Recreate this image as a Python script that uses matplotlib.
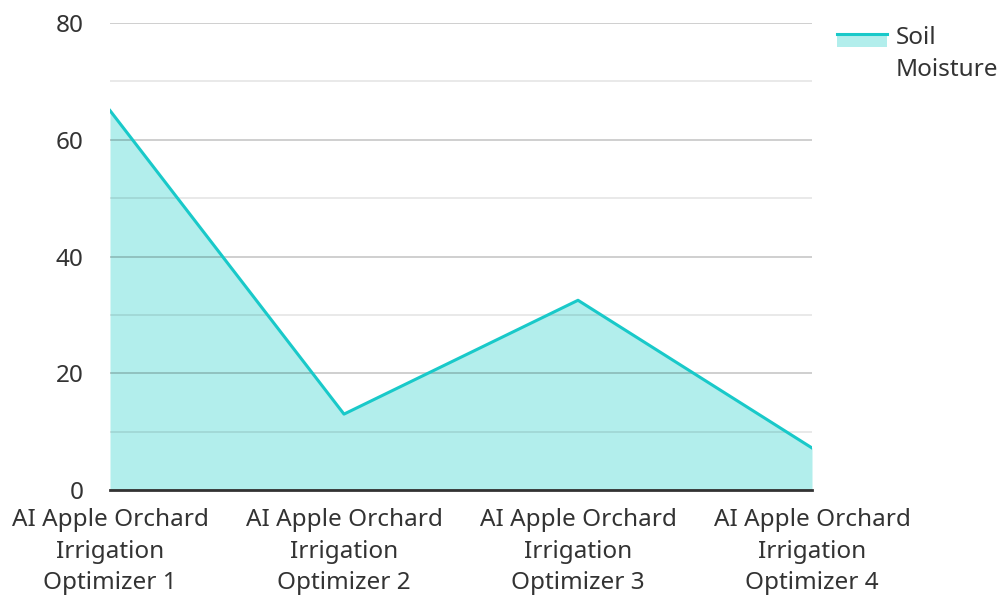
import matplotlib.pyplot as plt
from matplotlib.patches import Rectangle
from matplotlib.lines import Line2D
from matplotlib.legend_handler import HandlerBase

plt.rcParams["font.family"] = ["Noto Sans", "DejaVu Sans"]

categories = [
    "AI Apple Orchard\nIrrigation\nOptimizer 1",
    "AI Apple Orchard\nIrrigation\nOptimizer 2",
    "AI Apple Orchard\nIrrigation\nOptimizer 3",
    "AI Apple Orchard\nIrrigation\nOptimizer 4",
]
soil_moisture = [65, 13, 32.5, 7.2]
y_ticks = [0, 20, 40, 60, 80]
y_minor = [10, 30, 50, 70]

line_color = "#19c9c9"
fill_color = "#b2eeec"
text_color = "#333333"
font_size = 17.5


class AreaHandler(HandlerBase):
    # line on top edge of a filled box, next to the first label line
    def create_artists(self, legend, orig_handle, xdescent, ydescent,
                       width, height, fontsize, trans):
        top = height / 2 + 14.5
        rect = Rectangle((-xdescent, top - 9), width, 9, facecolor=fill_color,
                         edgecolor="none", transform=trans)
        line = Line2D([-xdescent, -xdescent + width], [top, top],
                      color=line_color, lw=2.2, transform=trans)
        return [rect, line]


fig = plt.figure(figsize=(10.02, 5.97), dpi=100)
ax = fig.add_axes([110 / 1002, 1 - 490 / 597, 702 / 1002, 467 / 597])

x = range(len(categories))
ax.fill_between(x, soil_moisture, 0, color=fill_color, lw=0, zorder=1)
ax.plot(x, soil_moisture, color=line_color, lw=2.2, zorder=3)

ax.set_xlim(0, len(categories) - 1)
ax.set_ylim(0, 80)
ax.set_yticks(y_ticks)
ax.set_yticks(y_minor, minor=True)
ax.set_xticks(list(x))
ax.set_xticklabels(categories, fontsize=font_size, color=text_color, linespacing=1.42)
ax.tick_params(axis="y", which="major", labelsize=font_size, labelcolor=text_color, length=0, pad=19)
ax.tick_params(axis="y", which="minor", length=0)
ax.tick_params(axis="x", length=0, pad=13)

ax.grid(axis="y", which="major", color="black", alpha=0.22, lw=1.2, zorder=2)
ax.grid(axis="y", which="minor", color="black", alpha=0.1, lw=1.2, zorder=2)
ax.set_axisbelow(False)
for side in ["top", "right", "left"]:
    ax.spines[side].set_visible(False)
ax.spines["bottom"].set_color(text_color)
ax.spines["bottom"].set_linewidth(2)
ax.spines["bottom"].set_zorder(4)

leg = ax.legend([object()], ["Soil\nMoisture"], handler_map={object: AreaHandler()},
                loc="upper left", bbox_to_anchor=(837 / 1002, 1 - 26 / 597),
                bbox_transform=fig.transFigure, frameon=False, fontsize=font_size,
                labelcolor=text_color, handlelength=2.05, handletextpad=0.35,
                borderaxespad=0, borderpad=0)
for t in leg.get_texts():
    t.set_linespacing(1.42)

fig.savefig("out.png", dpi=100)
